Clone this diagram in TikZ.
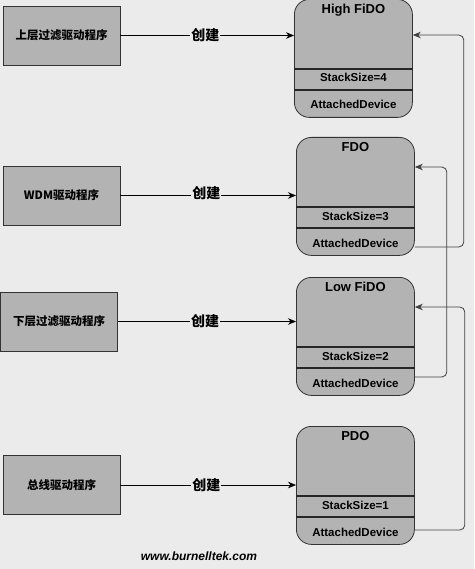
\documentclass[tikz,border=0pt]{standalone}
\usepackage{fontspec}
\setmainfont{Liberation Sans}
\newfontfamily\cjk{Noto Sans CJK SC}
\usetikzlibrary{arrows.meta, positioning, calc}
\definecolor{bgGray}{HTML}{EBEBEB}
\definecolor{boxGray}{HTML}{B3B3B3}
\colorlet{boxLine}{black!80}
\tikzstyle{driver}=[draw=boxLine, fill=boxGray, line width=0.8pt,
  minimum width=117pt, minimum height=59pt,
  font=\cjk\bfseries\fontsize{11.5}{13}\selectfont]
\tikzstyle{devObj}=[draw=boxLine, fill=boxGray, line width=0.8pt,
  rounded corners=15pt, minimum width=118pt, minimum height=118pt,
  anchor=north west]
\tikzstyle{objTitle}=[anchor=base, inner sep=0pt,
  font=\bfseries\fontsize{13}{15}\selectfont]
\tikzstyle{field}=[anchor=base, inner sep=0pt,
  font=\bfseries\fontsize{11.5}{13}\selectfont]
\tikzstyle{sepLine}=[line width=1.4pt, draw=black!85]
\tikzstyle{arrow}=[-{Stealth[length=8pt, width=6.5pt, inset=2.5pt]},
  line width=0.7pt, draw=black]
\tikzstyle{link}=[-{Stealth[length=8pt, width=6.5pt, inset=2.5pt]},
  line width=0.8pt, draw=black!75, rounded corners=5pt]
\tikzstyle{createLbl}=[fill=bgGray, inner sep=1pt,
  font=\cjk\bfseries\fontsize{14}{16}\selectfont]

\begin{document}
\begin{tikzpicture}[x=1pt, y=-1pt]
      \fill[bgGray] (0,0) rectangle (474,569);
      \useasboundingbox (0,0) rectangle (474,569);

      % drivers on the left
      \node[driver] (upper) at (61.5,35.5) {上层过滤驱动程序};
      \node[driver] (wdm)   at (61.5,195.5) {WDM驱动程序};
      \node[driver] (lower) at (59,321.5) {下层过滤驱动程序};
      \node[driver] (bus)   at (61.5,485) {总线驱动程序};

      % device objects on the right
      \foreach \n/\x/\y/\t/\s in {hfido/294/-1/High FiDO/4, fdo/296/137/FDO/3,
        lfido/296/277/Low FiDO/2, pdo/296/426/PDO/1}
      {
        \node[devObj] (\n) at (\x,\y) {};
        \node[objTitle] (\n-title) at ($(\n.north)+(0,14.5)$) {\t};
        \draw[sepLine] ($(\n.north west)+(0,70)$) -- ($(\n.north east)+(0,70)$);
        \draw[sepLine] ($(\n.north west)+(0,91)$) -- ($(\n.north east)+(0,91)$);
        \node[field] (\n-ss) at ($(\n.north)+(0,83)$) {StackSize=\s};
        \node[field] (\n-ad) at ($(\n.north)+(0,110)$) {AttachedDevice};
      }

      % creation arrows
      \draw[arrow] (upper.east) -- (hfido.west |- upper.east)
        node[createLbl, pos=0.49] {创建};
      \draw[arrow] (wdm.east) -- (fdo.west |- wdm.east)
        node[createLbl, pos=0.49, yshift=2pt] {创建};
      \draw[arrow] (lower.east) -- (lfido.west |- lower.east)
        node[createLbl, pos=0.49] {创建};
      \draw[arrow] (bus.east) -- (pdo.west |- bus.east)
        node[createLbl, pos=0.49] {创建};

      % attached device links
      \coordinate (hfido-in) at ($(hfido.north east)+(0,36)$);
      \coordinate (fdo-in) at ($(fdo.north east)+(0,30)$);
      \coordinate (lfido-in) at ($(lfido.north east)+(0,30)$);
      \draw[link] ($(fdo.north east)+(0,110)$) -- ++(49,0) |- (hfido-in);
      \draw[link] ($(lfido.north east)+(0,100)$) -- ++(32,0) |- (fdo-in);
      \draw[link] ($(pdo.north east)+(0,104)$) -- ++(50,0) |- (lfido-in);

      \node[font=\bfseries\itshape\fontsize{12}{14}\selectfont] (site)
        at (199,556) {www.burnelltek.com};
\end{tikzpicture}
\end{document}
